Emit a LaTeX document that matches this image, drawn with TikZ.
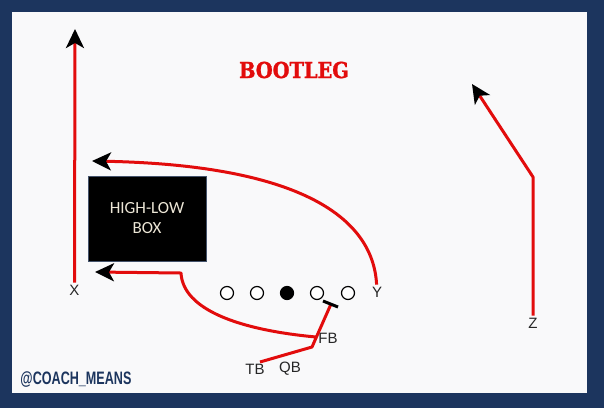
\documentclass[tikz,border=0pt]{standalone}
\usepackage{fontspec}
\setmainfont{Liberation Sans}
\newfontfamily\boxfont{Carlito}
\newfontfamily\titlefont[FakeBold=1.5]{DejaVu Serif Bold}
\usetikzlibrary{arrows.meta}
\definecolor{navy}{RGB}{28,53,94}
\definecolor{field}{RGB}{249,249,250}
\definecolor{routered}{RGB}{226,12,12}
\definecolor{cream}{RGB}{236,230,214}
\tikzset{
	route/.style={draw=routered,line width=3pt,line join=round,-{Stealth[black,length=19pt,width=18pt,inset=5pt]}},
	norte/.style={draw=routered,line width=3pt,line join=round},
	lineman/.style={circle,draw=black,line width=1.2pt,minimum size=13pt,inner sep=0pt,fill=white},
	player/.style={font=\fontsize{15}{17}\selectfont,text=black!85,inner sep=2pt},
	blocker/.style={draw=black,line width=3pt}
}
\begin{document}
\begin{tikzpicture}[x=1pt,y=-1pt]
	\fill[navy] (0,0) rectangle (604,408);
	\fill[field] (12,12) rectangle (587,393);
	\node[text=routered,font=\titlefont\fontsize{22}{24}\selectfont,xscale=0.88] (title) at (294,70) {BOOTLEG};
	\node[fill=black,draw=navy!60!gray,line width=1pt,minimum width=118pt,minimum height=85pt,text=cream,align=center,font=\boxfont\fontsize{17}{20}\selectfont] (hilo) at (147,218.5) {HIGH-LOW\\BOX};
	\node[anchor=west,text=navy,font=\bfseries\fontsize{18}{20}\selectfont,xscale=0.7] (tag) at (18,380) {@COACH\_MEANS};
    \begin{scope}[every node/.style={lineman}]
	\node (lt) at (227,293) {};
	\node (lg) at (257,293) {};
	\node[fill=black] (c) at (287,293) {};
	\node (rg) at (317,293) {};
	\node (rt) at (348,293) {};
    \end{scope}
	\node[player] (X) at (74.5,290) {X};
	\node[player] (Y) at (377,292) {Y};
	\node[player] (Z) at (533,323) {Z};
	\node[player] (FB) at (328,338) {FB};
	\node[player] (TB) at (255,369) {TB};
	\node[player] (QB) at (290,369) {QB};
	\coordinate (xtip) at (75,29);
	\coordinate (ytip) at (92,161);
	\coordinate (zbreak) at (533,177);
	\coordinate (ztip) at (472,84);
	\coordinate (mesh) at (260,362);
	\coordinate (fake) at (312,347);
	\coordinate (fbturn) at (316,337);
	\coordinate (blk) at (331,304);
	\coordinate (corner) at (181,273);
	\coordinate (lowtip) at (95,272);
	\coordinate (blkl) at (323,301);
	\coordinate (blkr) at (338,307);
	\draw[route] (X) -- (xtip);
	\draw[route] (Y) .. controls (373,215) and (295,165) .. (ytip);
	\draw[route] (Z) -- (zbreak) -- (ztip);
	\draw[norte] (mesh) -- (fake) -- (blk);
	\draw[route] (fbturn) .. controls (240,330) and (183,310) .. (corner) -- (lowtip);
	\draw[blocker] (blkl) -- (blkr);
\end{tikzpicture}
\end{document}
